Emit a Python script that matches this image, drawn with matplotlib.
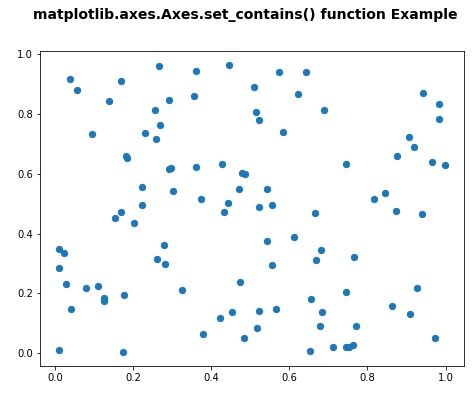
import matplotlib.pyplot as plt

# points
xs = [0.039, 0.056, 0.168, 0.266, 0.362, 0.445, 0.138, 0.292, 0.357, 0.256,
      0.270, 0.230, 0.258, 0.094, 0.182, 0.185, 0.293, 0.298, 0.362, 0.427,
      0.479, 0.487, 0.224, 0.301, 0.373, 0.444, 0.472, 0.224, 0.434, 0.168,
      0.153, 0.203, 0.011, 0.024, 0.011, 0.029, 0.079, 0.109, 0.126, 0.126,
      0.178, 0.042, 0.011, 0.173, 0.279, 0.260, 0.282, 0.326, 0.475, 0.453,
      0.423, 0.379, 0.485, 0.573, 0.643, 0.510, 0.623, 0.515, 0.522, 0.690,
      0.585, 0.943, 0.983, 0.983, 0.907, 0.919, 0.875, 0.965, 0.998, 0.746,
      0.544, 0.523, 0.556, 0.667, 0.816, 0.846, 0.873, 0.941, 0.612, 0.542,
      0.682, 0.669, 0.766, 0.556, 0.746, 0.926, 0.656, 0.862, 0.909, 0.523,
      0.566, 0.685, 0.518, 0.678, 0.770, 0.974, 0.711, 0.746, 0.753, 0.764,
      0.654]
ys = [0.918, 0.882, 0.909, 0.960, 0.945, 0.963, 0.843, 0.847, 0.861, 0.814,
      0.763, 0.738, 0.715, 0.732, 0.661, 0.653, 0.615, 0.618, 0.624, 0.632,
      0.604, 0.598, 0.555, 0.544, 0.515, 0.502, 0.548, 0.495, 0.472, 0.472,
      0.453, 0.437, 0.347, 0.335, 0.284, 0.233, 0.217, 0.224, 0.184, 0.174,
      0.193, 0.148, 0.010, 0.005, 0.361, 0.315, 0.297, 0.211, 0.239, 0.137,
      0.117, 0.065, 0.051, 0.941, 0.941, 0.890, 0.867, 0.807, 0.781, 0.815,
      0.739, 0.872, 0.833, 0.783, 0.723, 0.690, 0.661, 0.639, 0.630, 0.632,
      0.548, 0.488, 0.497, 0.470, 0.517, 0.535, 0.475, 0.464, 0.390, 0.375,
      0.344, 0.313, 0.321, 0.296, 0.205, 0.219, 0.182, 0.159, 0.130, 0.142,
      0.148, 0.139, 0.085, 0.091, 0.091, 0.051, 0.022, 0.020, 0.022, 0.028,
      0.008]
title = "matplotlib.axes.Axes.set_contains() function Example"

fig = plt.figure(figsize=(474 / 72, 402 / 72), dpi=72)
ax = fig.add_axes([40 / 474, 1 - 366 / 402, 424 / 474, 315 / 402])
ax.scatter(xs, ys, s=40)

fig.suptitle(title, fontsize=14, fontweight="bold", x=245 / 474, y=1 - 19.5 / 402, va="baseline")

fig.savefig("out.png", dpi=72)
